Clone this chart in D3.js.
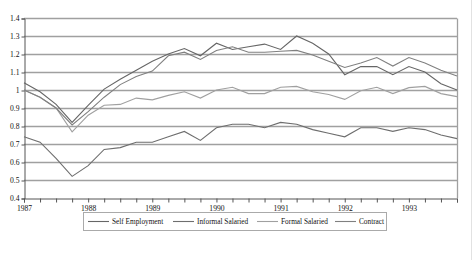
<!DOCTYPE html>
<html>
<head>
<meta charset="utf-8">
<script src="https://cdn.jsdelivr.net/npm/d3@7"></script>
<style>
  body { margin: 0; background: #fff; }
  svg { display: block; font-family: "Liberation Serif", "Times New Roman", serif; }
</style>
</head>
<body>
<div id="chart"></div>
<script>
// quarterly index, 1987 Q1 .. 1993 Q4
var years = ["1987", "1988", "1989", "1990", "1991", "1992", "1993"];
var quarters = d3.range(28);

var selfEmployment = [1.04, 0.99, 0.92, 0.82, 0.915, 1.005, 1.06, 1.11, 1.16, 1.2, 1.23, 1.19, 1.26, 1.225,
  1.24, 1.255, 1.225, 1.30, 1.26, 1.2, 1.085, 1.13, 1.13, 1.085, 1.13, 1.10, 1.035, 1.0];
var informalSalaried = [0.74, 0.71, 0.62, 0.52, 0.58, 0.67, 0.68, 0.71, 0.71, 0.74, 0.77, 0.72, 0.79, 0.81,
  0.81, 0.79, 0.82, 0.81, 0.78, 0.76, 0.74, 0.79, 0.79, 0.77, 0.79, 0.78, 0.75, 0.73];
var formalSalaried = [1.0, 0.96, 0.9, 0.768, 0.86, 0.915, 0.92, 0.955, 0.945, 0.97, 0.99, 0.955, 1.0, 1.015,
  0.98, 0.98, 1.015, 1.02, 0.99, 0.975, 0.948, 0.996, 1.015, 0.98, 1.013, 1.02, 0.98, 0.963];
var contract = [1.0, 0.96, 0.9, 0.806, 0.88, 0.96, 1.03, 1.075, 1.105, 1.19, 1.21, 1.17, 1.22, 1.24,
  1.21, 1.21, 1.215, 1.22, 1.195, 1.16, 1.125, 1.15, 1.18, 1.133, 1.18, 1.15, 1.11, 1.078];

var seriesNames = ["Self Employment", "Informal Salaried", "Formal Salaried", "Contract"];
var seriesValues = [selfEmployment, informalSalaried, formalSalaried, contract];
var seriesColors = ["#666", "#6e6e6e", "#a0a0a0", "#808080"];

var W = 474, H = 260;
var plotLeft = 24, plotRight = 457, plotTop = 18, plotBottom = 198;

var svg = d3.select("#chart").append("svg")
  .attr("width", W)
  .attr("height", H);

// faint outer frame on the right edge
svg.append("line")
  .attr("x1", 471.5).attr("x2", 471.5)
  .attr("y1", 0).attr("y2", H)
  .style("stroke", "#e2e2e2");

var x = d3.scaleLinear().domain([0, 27]).range([plotLeft, plotRight]);
var y = d3.scaleLinear().domain([0.4, 1.4]).range([plotBottom, plotTop]);

var yTicks = d3.range(4, 15).map(function(d) { return d / 10; });

// gridlines
svg.append("g")
  .selectAll("line")
  .data(yTicks.slice(1))
  .enter()
  .append("line")
    .attr("x1", plotLeft).attr("x2", plotRight)
    .attr("y1", function(d) { return Math.round(y(d)) + 0.5; })
    .attr("y2", function(d) { return Math.round(y(d)) + 0.5; })
    .style("stroke", "#a0a0a0")
    .style("stroke-width", 1.3);

// right border
svg.append("line")
  .attr("x1", plotRight + 0.5).attr("x2", plotRight + 0.5)
  .attr("y1", Math.round(y(1.4)) + 0.5).attr("y2", plotBottom)
  .style("stroke", "#a0a0a0")
  .style("stroke-width", 1.3);

// y axis
var yAxis = svg.append("g")
  .attr("transform", "translate(" + (plotLeft + 0.5) + ",0.5)")
  .call(d3.axisLeft(y).tickValues(yTicks).tickSize(3).tickPadding(2)
    .tickFormat(function(d) { return d === 1 ? "1" : d3.format(".1f")(d); }));
yAxis.select(".domain").style("stroke", "#555");
yAxis.selectAll(".tick line").style("stroke", "#555");
yAxis.selectAll("text").style("font-size", "7.6px").style("fill", "#111")
  .style("font-family", "Liberation Serif");

// x axis
var xAxis = svg.append("g")
  .attr("transform", "translate(0," + (Math.round(y(0.4)) + 0.5) + ")")
  .call(d3.axisBottom(x).tickValues(quarters).tickSize(4).tickPadding(3)
    .tickFormat(function(d) { return d % 4 === 0 ? years[d / 4] : ""; }));
xAxis.select(".domain").style("stroke", "#555");
xAxis.selectAll(".tick line").style("stroke", "#555");
xAxis.selectAll("text").style("font-size", "7.6px").style("fill", "#111")
  .style("font-family", "Liberation Serif");

// lines
var line = d3.line()
  .x(function(d, i) { return x(i); })
  .y(function(d) { return y(d); });

svg.append("g")
  .selectAll("path")
  .data(seriesValues)
  .enter()
  .append("path")
    .attr("d", line)
    .style("fill", "none")
    .style("stroke", function(d, i) { return seriesColors[i]; })
    .style("stroke-width", 1.1);

// legend
var legend = svg.append("g");
legend.append("rect")
  .attr("x", 83.5).attr("y", 212.5)
  .attr("width", 303).attr("height", 18)
  .style("fill", "#fff")
  .style("stroke", "#aaa");

var legendX = [88, 173, 257, 335];
var item = legend.selectAll(".item")
  .data(seriesNames)
  .enter()
  .append("g")
    .attr("transform", function(d, i) { return "translate(" + legendX[i] + ",221)"; });
item.append("line")
  .attr("x1", 0).attr("x2", 21)
  .attr("y1", 0.5).attr("y2", 0.5)
  .style("stroke", function(d, i) { return seriesColors[i]; })
  .style("stroke-width", 1.1);
item.append("text")
  .attr("x", 24)
  .attr("y", 2.6)
  .style("font-size", "7.3px")
  .style("fill", "#111")
  .text(function(d) { return d; });
</script>
</body>
</html>
